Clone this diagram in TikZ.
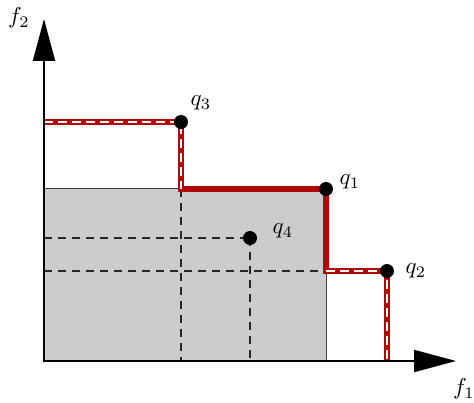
\documentclass[tikz,border=0pt]{standalone}
\usetikzlibrary{arrows.meta,calc}
\definecolor{paretored}{RGB}{178,8,8}
\definecolor{boxgray}{RGB}{204,204,204}
\tikzset{
  axis/.style={line width=2pt,-{Triangle[length=42pt,width=22pt]}},
  front/.style={line width=5.5pt,paretored},
  frontdash/.style={line width=1.3pt,white,dash pattern=on 9pt off 5pt},
  guide/.style={line width=1.3pt,black!85,dash pattern=on 8pt off 6pt},
  pt/.style={circle,fill=black,inner sep=0pt,minimum size=14pt},
  lab/.style={scale=2.3,inner sep=0pt}
}
\begin{document}
\begin{tikzpicture}[x=1pt,y=-1pt]
\useasboundingbox (0,0) rectangle (474,403);
% shaded dominated region
\fill[boxgray] (44,189) rectangle (326,361);
\draw[line width=1pt,black!75] (44,189) -- (326,189) -- (326,361);
% guides
\draw[guide] (44,238) -- (250,238);
\draw[guide] (44,271) -- (326,271);
\draw[guide] (181,189) -- (181,361);
\draw[guide] (250,238) -- (250,361);
% points
\coordinate (y0) at (44,122);
\coordinate (c1) at (181,189);
\coordinate (c2) at (326,271);
\coordinate (x0) at (387,361);
% front
\draw[front,line join=miter] (y0) -- (181,122) -- (c1) -- (326,189) -- (c2) -- (387,271) -- (x0);
\draw[frontdash] (y0) -- (181,122) -- (c1);
\draw[frontdash] (c2) -- (387,271) -- (x0);
% axes
\coordinate (o) at (44,361);
\coordinate (xe) at (456,361);
\coordinate (ye) at (44,19);
\draw[axis] ($(o)+(-1,0)$) -- (xe);
\draw[axis] ($(o)+(0,1)$) -- (ye);
\node[pt] (q3) at (181,122) {};
\node[pt] (q1) at (326,189) {};
\node[pt] (q4) at (250,238) {};
\node[pt] (q2) at (387,271) {};
\node[lab] (l3) at (201,103) {$q_3$};
\node[lab] (l1) at (350,182) {$q_1$};
\node[lab] (l4) at (283,231) {$q_4$};
\node[lab] (l2) at (416,271) {$q_2$};
\node[lab] (f2) at (19,18) {$f_2$};
\node[lab] (f1) at (464,389) {$f_1$};
\end{tikzpicture}
\end{document}
